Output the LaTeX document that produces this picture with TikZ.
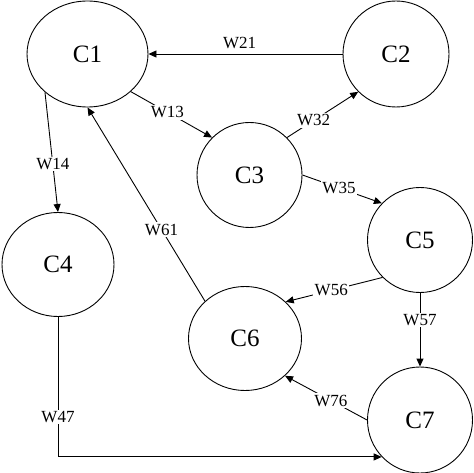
\documentclass[tikz,border=0pt]{standalone}
\usepackage{fontspec}
\setmainfont{Liberation Serif}
\usetikzlibrary{arrows.meta,positioning,shapes.geometric}
\tikzset{
  fcmnode/.style={ellipse,draw=black,line width=0.9pt,fill=white,
                  inner sep=0pt,font=\fontsize{25}{28}\selectfont},
  fcmarrow/.style={-{Triangle[length=8pt,width=7pt]},line width=0.9pt,black},
  fcmlabel/.style={font=\fontsize{17}{19}\selectfont,fill=white,
                   inner sep=1.5pt}
}
\begin{document}
\begin{tikzpicture}[x=1pt,y=-1pt]
    \useasboundingbox (0,0) rectangle (474,473);
    \node[fcmnode,minimum width=121pt,minimum height=106pt] (c1) at (87.5,54) {C1};
    \node[fcmnode,minimum width=106pt,minimum height=106pt] (c2) at (396,54) {C2};
    \node[fcmnode,minimum width=105pt,minimum height=105pt] (c3) at (249.5,175) {C3};
    \node[fcmnode,minimum width=112pt,minimum height=104pt] (c4) at (58,264.5) {C4};
    \node[fcmnode,minimum width=105pt,minimum height=105pt] (c5) at (420,240) {C5};
    \node[fcmnode,minimum width=113pt,minimum height=104pt] (c6) at (245,338.5) {C6};
    \node[fcmnode,minimum width=105pt,minimum height=106pt] (c7) at (420,420) {C7};

    \draw[fcmarrow] (c2.west) -- node[pos=0.53,above=3pt,fcmlabel]
      {W21} (c1.east);
    \draw[fcmarrow] (c1.319) -- node[pos=0.45,fcmlabel]
      {W13} (c3.135);
    \draw[fcmarrow] (c1.222) -- node[pos=0.6,fcmlabel]
      {W14} (c4.north);
    \draw[fcmarrow] (c6.137) -- node[pos=0.37,fcmlabel]
      {W61} (c1.south);
    \draw[fcmarrow] (c3.45) -- node[pos=0.375,fcmlabel]
      {W32} (c2.225);
    \draw[fcmarrow] (c3.east) -- node[pos=0.46,fcmlabel]
      {W35} (c5.136);
    \draw[fcmarrow] (c5.225) -- node[pos=0.53,fcmlabel]
      {W56} (c6.42);
    \draw[fcmarrow] (c5.south) -- node[pos=0.37,fcmlabel]
      {W57} (c7.north);
    \draw[fcmarrow] (c7.west) -- node[pos=0.44,fcmlabel]
      {W76} (c6.317);
    \draw[fcmarrow] (c4.south) |- node[pos=0.357,fcmlabel]
      {W47} (c7.224);
  \end{tikzpicture}
\end{document}
